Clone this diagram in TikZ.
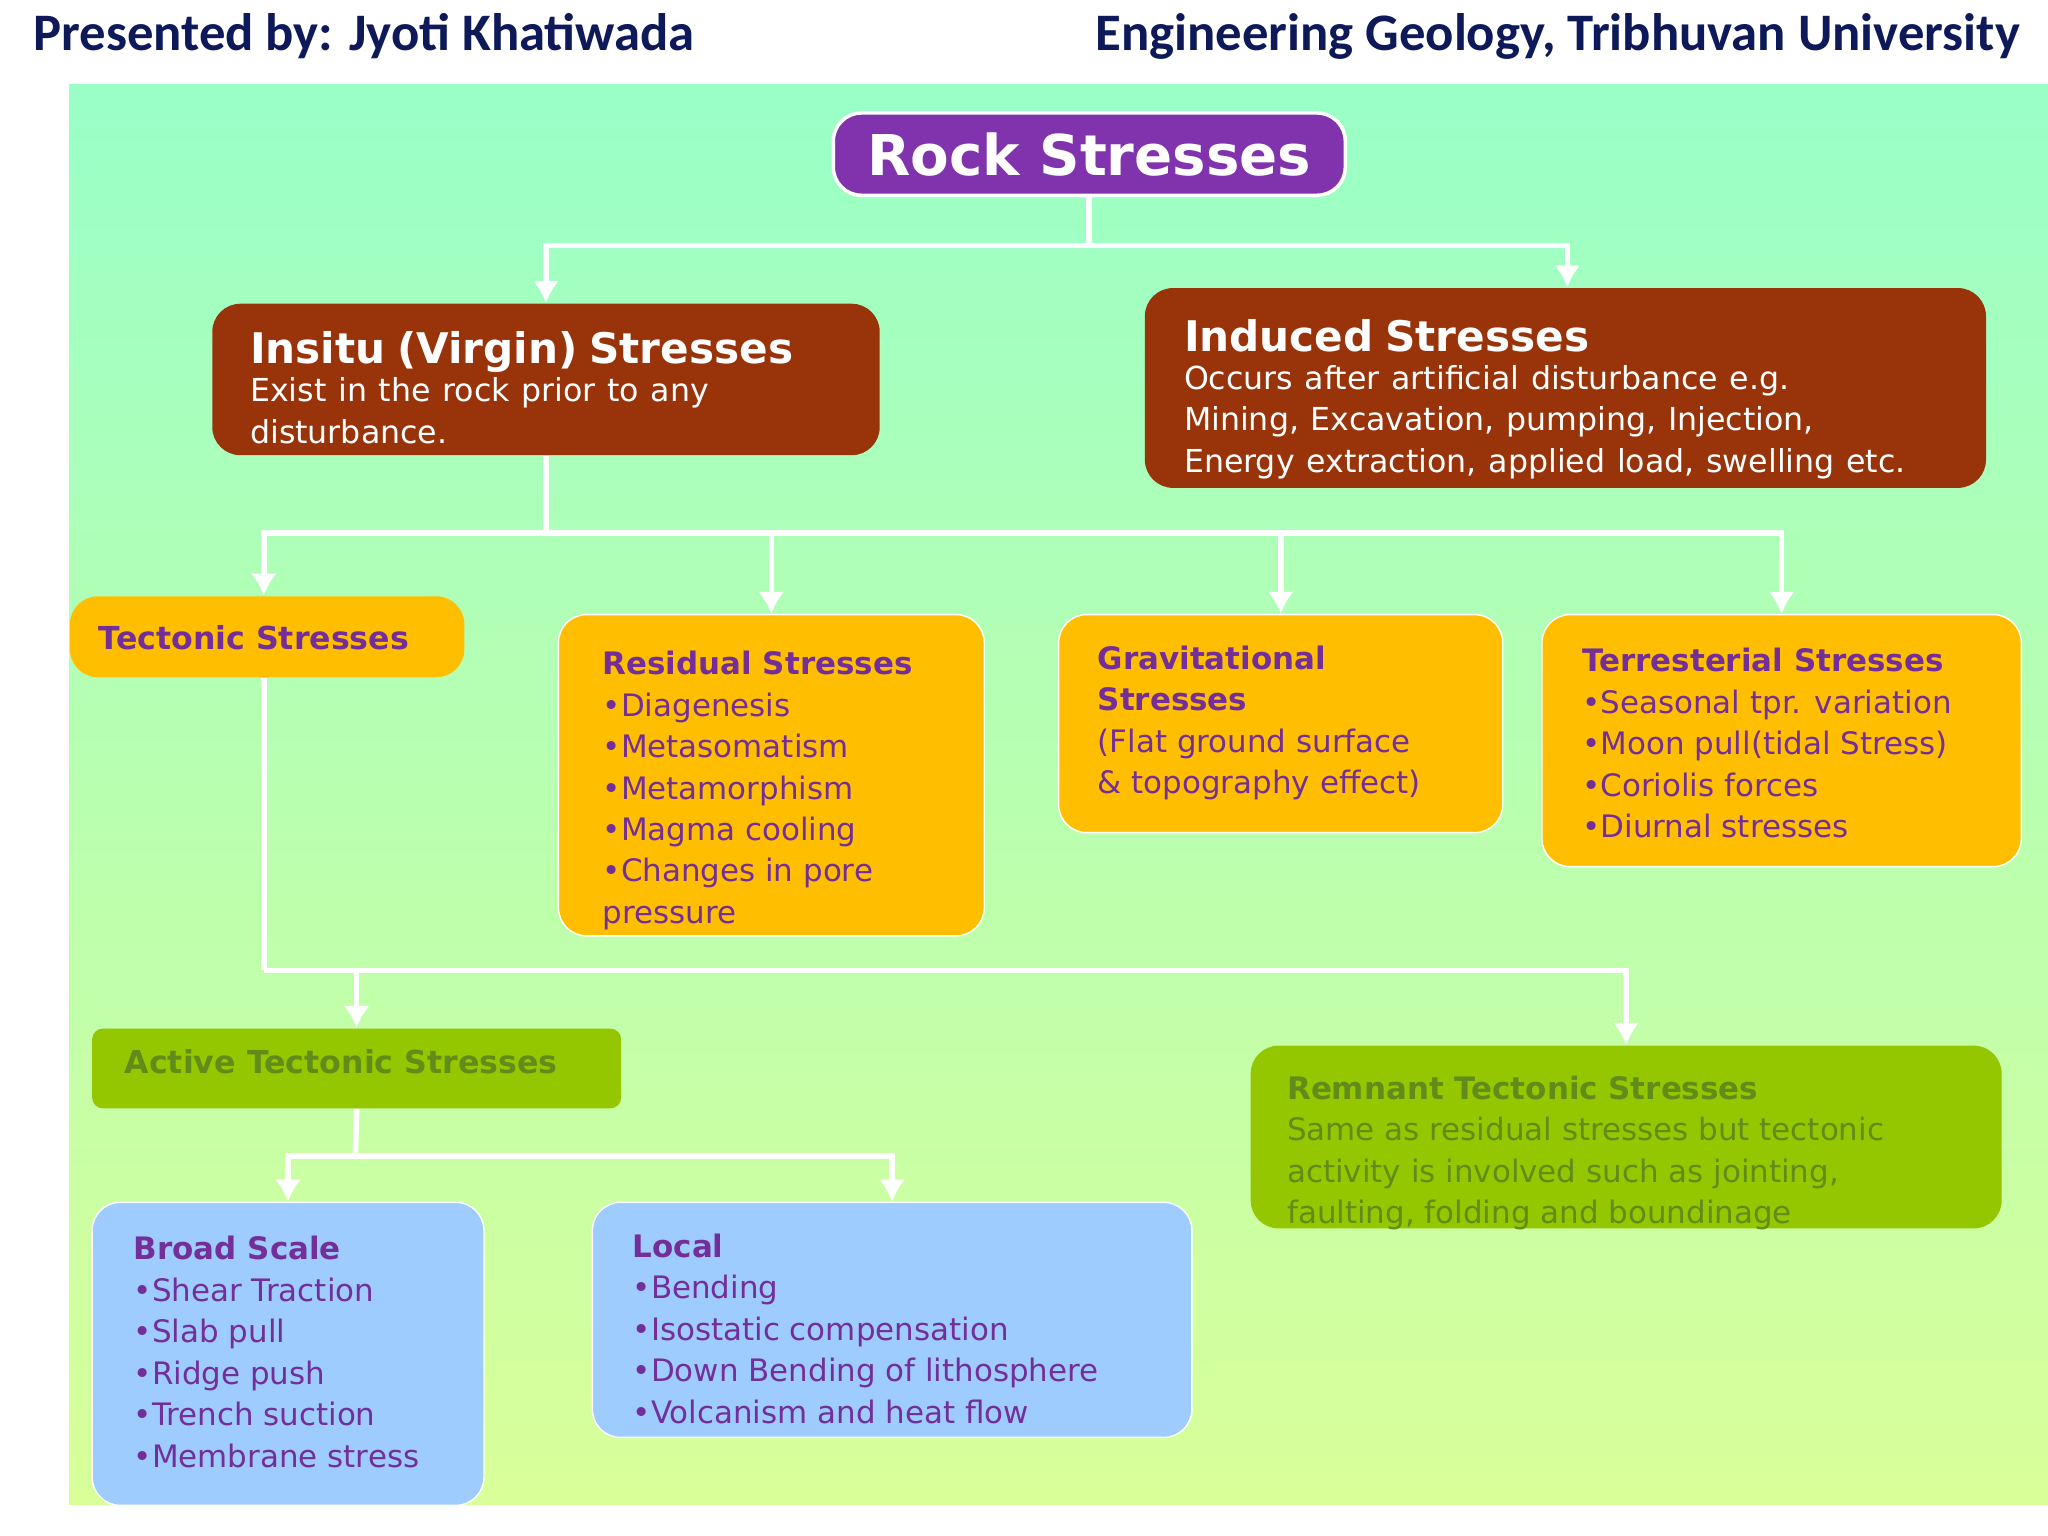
\documentclass[tikz,border=0pt]{standalone}
\usepackage{fontspec}
\setmainfont{DejaVu Sans}
\newfontfamily\hdrfont{Carlito}
\usetikzlibrary{positioning, arrows.meta}
\definecolor{rsprp}{rgb}{0.50,0.20,0.68}
\definecolor{rsbrn}{rgb}{0.60,0.20,0.04}
\definecolor{rsorg}{rgb}{1.00,0.75,0.00}
\definecolor{rsgrn}{rgb}{0.58,0.78,0.00}
\definecolor{rsblu}{rgb}{0.62,0.80,1.00}
\definecolor{rstxt}{rgb}{0.45,0.18,0.60}
\definecolor{rsgtx}{rgb}{0.38,0.55,0.10}
\definecolor{rsnav}{rgb}{0.05,0.10,0.35}
\definecolor{rstop}{rgb}{0.60,1.00,0.78}
\definecolor{rsbot}{rgb}{0.85,1.00,0.60}
\tikzset{
 box/.style={rounded corners=8pt, inner sep=0pt, align=left, anchor=north west},
 lnk/.style={draw=white, line width=1.6pt},
 arr/.style={lnk, -{Latex[length=2.2mm,width=2.6mm]}},
 body/.style={font=\fontsize{8.8}{11.8}\selectfont},
}
\begin{document}
\begin{tikzpicture}[x=0.013061cm, y=-0.013061cm]
\useasboundingbox (0,0) rectangle (1568,1176);
\fill[white] (0,0) rectangle (1568,1176);
\shade[top color=rstop, bottom color=rsbot] (53,65) rectangle (1568,1152);
\node[anchor=west, text=rsnav, font=\hdrfont\bfseries\fontsize{15}{17}\selectfont] (hl) at (16,28) {Presented by: Jyoti Khatiwada};
\node[anchor=east, text=rsnav, font=\hdrfont\bfseries\fontsize{15}{17}\selectfont] (hr) at (1556,28) {Engineering Geology, Tribhuvan University};
% boxes
\node[box, fill=rsprp, draw=white, line width=1pt, minimum width=392*0.013061cm, minimum height=63*0.013061cm, anchor=center, align=center, text=white, font=\bfseries\fontsize{16}{18}\selectfont] (rock) at (834,118) {Rock Stresses};
\node[box, fill=rsbrn, minimum width=511*0.013061cm, minimum height=116*0.013061cm] (ins) at (162,232) {};
\node[anchor=north west, text=white, align=left, text width=480*0.013061cm] at (182,244) {{\bfseries\fontsize{12}{14}\selectfont Insitu (Virgin) Stresses}\\[-1pt]{\fontsize{9}{11.8}\selectfont Exist in the rock prior to any\\disturbance.}};
\node[box, fill=rsbrn, minimum width=644*0.013061cm, minimum height=153*0.013061cm] (ind) at (876,220) {};
\node[anchor=north west, text=white, align=left, text width=620*0.013061cm] at (897,235) {{\bfseries\fontsize{12}{14}\selectfont Induced Stresses}\\[-1pt]{\fontsize{9}{11.8}\selectfont Occurs after artificial disturbance e.g.\\Mining, Excavation, pumping, Injection,\\Energy extraction, applied load, swelling etc.}};
\node[box, fill=rsorg, minimum width=302*0.013061cm, minimum height=62*0.013061cm] (tec) at (53,456) {};
\node[anchor=west, text=rstxt, font=\bfseries\fontsize{9}{11}\selectfont] at (66,488) {Tectonic Stresses};
\node[box, fill=rsorg, draw=white, minimum width=326*0.013061cm, minimum height=246*0.013061cm] (res) at (427,470) {};
\node[anchor=north west, text=rstxt, align=left, body] at (452,489) {\textbf{Residual Stresses}\\•Diagenesis\\•Metasomatism\\•Metamorphism\\•Magma cooling\\•Changes in pore\\pressure};
\node[box, fill=rsorg, draw=white, minimum width=340*0.013061cm, minimum height=167*0.013061cm] (grv) at (810,470) {};
\node[anchor=north west, text=rstxt, align=left, body] at (831,485) {\textbf{Gravitational}\\\textbf{Stresses}\\(Flat ground surface\\\& topography effect)};
\node[box, fill=rsorg, draw=white, minimum width=367*0.013061cm, minimum height=193*0.013061cm] (ter) at (1180,470) {};
\node[anchor=north west, text=rstxt, align=left, body] at (1202,487) {\textbf{Terresterial Stresses}\\•Seasonal tpr. variation\\•Moon pull(tidal Stress)\\•Coriolis forces\\•Diurnal stresses};
\node[box, rounded corners=3pt, fill=rsgrn, minimum width=405*0.013061cm, minimum height=61*0.013061cm] (act) at (70,787) {};
\node[anchor=west, text=rsgtx, font=\bfseries\fontsize{9}{11}\selectfont] at (86,813) {Active Tectonic Stresses};
\node[box, fill=rsgrn, minimum width=575*0.013061cm, minimum height=140*0.013061cm] (rem) at (957,800) {};
\node[anchor=north west, text=rsgtx, align=left, body] at (976,814) {\textbf{Remnant Tectonic Stresses}\\Same as residual stresses but tectonic\\activity is involved such as jointing,\\faulting, folding and boundinage};
\node[box, fill=rsblu, draw=white, minimum width=300*0.013061cm, minimum height=232*0.013061cm] (brd) at (70,920) {};
\node[anchor=north west, text=rstxt, align=left, body] at (93,937) {\textbf{Broad Scale}\\•Shear Traction\\•Slab pull\\•Ridge push\\•Trench suction\\•Membrane stress};
\node[box, fill=rsblu, draw=white, minimum width=459*0.013061cm, minimum height=180*0.013061cm] (loc) at (453,920) {};
\node[anchor=north west, text=rstxt, align=left, body] at (475,935) {\textbf{Local}\\•Bending\\•Isostatic compensation\\•Down Bending of lithosphere\\•Volcanism and heat flow};
% connectors
\coordinate (j1) at (834,188);
\draw[lnk] (rock.south) -- (j1);
\draw[arr] (j1) -| (ins.north-|418,0);
\draw[arr] (j1) -| (ind.north-|1200,0);
\coordinate (j2) at (418,408);
\draw[lnk] (ins.south-|j2) -- (j2);
\draw[arr] (j2) -| (tec.north-|202,0);
\draw[arr] (j2) -| (res.north);
\draw[arr] (j2) -| (grv.north);
\draw[arr] (j2) -| (ter.north);
\coordinate (j3) at (202,743);
\draw[lnk] (tec.south-|j3) -- (j3);
\draw[arr] (j3) -| (act.north);
\draw[arr] (j3) -| (rem.north);
\coordinate (j4) at (272,885);
\draw[lnk] (act.south) -- (j4);
\draw[arr] (j4) -| (brd.north);
\draw[arr] (j4) -| (loc.north);
\end{tikzpicture}
\end{document}
